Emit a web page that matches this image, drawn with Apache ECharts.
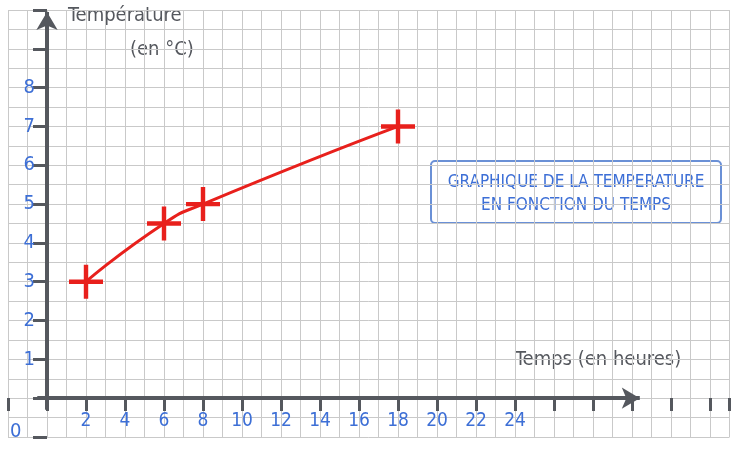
<!DOCTYPE html>
<html><head><meta charset="utf-8">
<script src="https://cdn.jsdelivr.net/npm/echarts@6/dist/echarts.min.js"></script>
<style>html,body{margin:0;background:#fff}#c{width:738px;height:452px}</style>
</head><body><div id="c"></div>
<script>
var hours = [2, 6, 8, 18];
var temps = [3, 4.5, 5, 7];
var xTicks = [2, 4, 6, 8, 10, 12, 14, 16, 18, 20, 22, 24];
var yTicks = [1, 2, 3, 4, 5, 6, 7, 8];

var font = "'Liberation Sans Narrow', 'DejaVu Sans Condensed', sans-serif";
var blue = '#3d6fd6';
var axisGray = '#55585e';
var cross = 'path://M-1.3,-10h2.6v20h-2.6zM-10,-1.3h20v2.6h-20z';

var chart = echarts.init(document.getElementById('c'));
chart.setOption({
    backgroundColor: '#fff',
    animation: false,
    grid: {left: 8, right: 8.5, top: 10, bottom: 15, containLabel: false, outerBoundsMode: 'none'},
    xAxis: [{
        type: 'value', min: -2, max: 35, interval: 1,
        axisLine: {show: false}, axisTick: {show: false}, axisLabel: {show: false},
        splitLine: {lineStyle: {color: '#c9c9c9', width: 1}}
    }, {
        type: 'value', min: -2, max: 35, interval: 2, position: 'bottom', offset: -39,
        axisLine: {show: false, onZero: false},
        axisTick: {length: 13, lineStyle: {color: axisGray, width: 3}},
        axisLabel: {
            color: blue, fontSize: 19, fontFamily: font, margin: 14,
            formatter: function (v) { return xTicks.indexOf(v) >= 0 ? String(v) : ''; }
        },
        splitLine: {show: false}
    }],
    yAxis: [{
        type: 'value', min: -1, max: 10, interval: 0.5,
        axisLine: {show: false}, axisTick: {show: false}, axisLabel: {show: false},
        splitLine: {lineStyle: {color: '#c9c9c9', width: 1}}
    }, {
        type: 'value', min: -1, max: 10, interval: 1, position: 'left', offset: -39,
        axisLine: {show: false, onZero: false},
        axisTick: {length: 14, lineStyle: {color: axisGray, width: 3}},
        axisLabel: {
            color: blue, fontSize: 20, fontFamily: font, margin: 12,
            formatter: function (v) { return yTicks.indexOf(v) >= 0 ? String(v) : ''; }
        },
        splitLine: {show: false}
    }],
    series: [{
        type: 'line', xAxisIndex: 1, yAxisIndex: 1,
        data: hours.map(function (h, i) { return [h, temps[i]]; }),
        smooth: 0.6,
        lineStyle: {color: '#e8201c', width: 3},
        symbol: cross, symbolSize: 34,
        itemStyle: {color: '#e8201c'},
        markLine: {
            silent: true, symbol: ['none', 'arrow'], symbolSize: [16, 18],
            label: {show: false},
            lineStyle: {color: axisGray, width: 4, type: 'solid'},
            data: [
                [{coord: [-0.5, 0]}, {coord: [30.4, 0]}],
                [{coord: [0, -0.3]}, {coord: [0, 9.95]}]
            ]
        }
    }],
    graphic: [
        {type: 'text', left: 68, top: 6, style: {text: 'Température', fill: axisGray, font: '20px ' + font}},
        {type: 'text', left: 130, top: 40, style: {text: '(en °C)', fill: axisGray, font: '20px ' + font}},
        {type: 'text', left: 515, top: 350, style: {text: 'Temps (en heures)', fill: axisGray, font: '20px ' + font}},
        {type: 'text', left: 10, top: 422, style: {text: '0', fill: blue, font: '20px ' + font}},
        {type: 'rect', shape: {x: 431, y: 161, width: 290, height: 62, r: 4},
            style: {fill: '#fff', stroke: '#6a90d6', lineWidth: 2}},
        {type: 'text', x: 576, y: 171, style: {
            text: 'GRAPHIQUE DE LA TEMPERATURE\nEN FONCTION DU TEMPS', fill: blue,
            font: '17px ' + font, align: 'center', lineHeight: 23
        }}
    ]
});
</script>
</body></html>
